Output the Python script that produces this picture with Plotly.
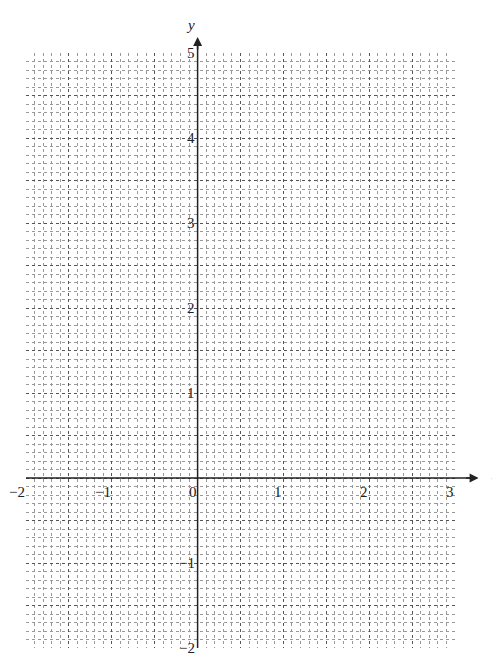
import plotly.graph_objects as go

x_ticks = [-2, -1, 0, 1, 2, 3]
y_ticks = [-2, -1, 1, 2, 3, 4, 5]
x_range = [-2, 3]
y_range = [-2, 5]

fig = go.Figure()
fig.add_trace(go.Scatter(x=[None], y=[None], showlegend=False))
F = dict(family="Liberation Serif, Times New Roman, serif", size=15, color="#222")

ax = dict(showgrid=True, gridcolor="#555", griddash="dot", gridwidth=1,
          minor=dict(dtick=0.1, showgrid=True, gridcolor="#999", griddash="dot", gridwidth=1),
          dtick=0.5, zeroline=False, showticklabels=False, showline=False, fixedrange=True,
          automargin=False)
fig.update_xaxes(range=x_range, **ax)
fig.update_yaxes(range=y_range, **ax)

fig.add_shape(type="line", xref="paper", yref="y", x0=0, x1=1.05, y0=0, y1=0, line=dict(color="#222", width=1.5))
fig.add_shape(type="line", xref="x", yref="paper", x0=0, x1=0, y0=0, y1=1.02, line=dict(color="#222", width=1.5))
fig.add_annotation(xref="paper", yref="y", x=1.055, y=0, ax=-14, ay=0, text="", showarrow=True, arrowhead=2, arrowsize=1.2, arrowwidth=1.5, arrowcolor="#222")
fig.add_annotation(xref="x", yref="paper", x=0, y=1.027, ax=0, ay=14, text="", showarrow=True, arrowhead=2, arrowsize=1.2, arrowwidth=1.5, arrowcolor="#222")

for t in x_ticks:
    fig.add_annotation(x=t, y=0, text=("−" + str(-t)) if t < 0 else str(t), showarrow=False, font=F,
                       xanchor="right", yanchor="top", xshift=1, yshift=-4)
for t in y_ticks:
    fig.add_annotation(x=0, y=t, text=("−" + str(-t)) if t < 0 else str(t), showarrow=False, font=F,
                       xanchor="right", yanchor="middle", xshift=-1)
fig.add_annotation(xref="paper", yref="y", x=1.08, y=0, text="<i>x</i>", showarrow=False, font=F, xanchor="left", yanchor="bottom", yshift=-6)
fig.add_annotation(xref="x", yref="paper", x=0, y=1.03, text="<i>y</i>", showarrow=False, font=F, xanchor="right", yanchor="bottom", xshift=-1)

fig.update_layout(width=500, height=660, margin=dict(l=18, r=53, t=45, b=20, autoexpand=False),
                  plot_bgcolor="white", paper_bgcolor="white", showlegend=False)
fig.write_html("out.html")
